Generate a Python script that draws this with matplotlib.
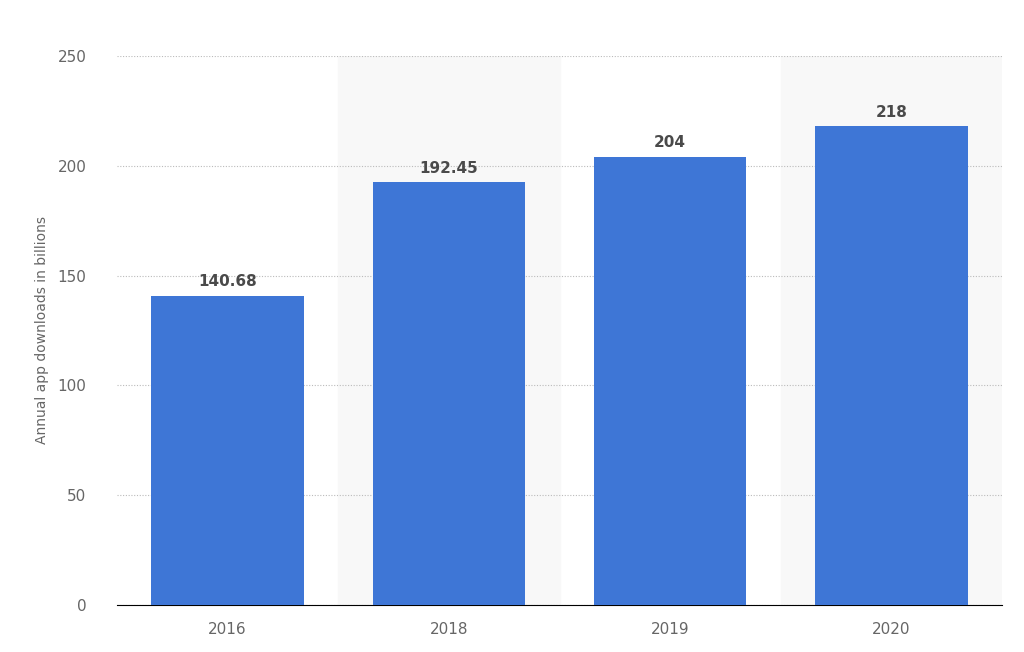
import numpy as np
import matplotlib.pyplot as plt

years = ['2016', '2018', '2019', '2020']
downloads = [140.68, 192.45, 204, 218]
labels = ['140.68', '192.45', '204', '218']

fig = plt.figure(figsize=(10.24, 6.52), dpi=100)
ax = fig.add_axes([117/1024, 47/652, 885/1024, 549/652])

x = np.arange(len(years))
for i in x:
    if i % 2 == 1:
        ax.axvspan(i - 0.5, i + 0.5, color='#f8f8f8', zorder=0)
ax.bar(x, downloads, width=0.69, color='#3e76d6', zorder=3)
for xi, v, lab in zip(x, downloads, labels):
    ax.text(xi, v + 3, lab, ha='center', va='bottom', fontsize=11,
            fontweight='bold', color='#4a4a4a', zorder=4)

ax.set_xlim(-0.5, 3.5)
ax.set_ylim(0, 250)
ax.set_yticks(range(0, 251, 50))
ax.set_xticks(x)
ax.set_xticklabels(years)
ax.grid(axis='y', linestyle=(0, (1, 1.5)), color='#bbbbbb', linewidth=0.8, zorder=1)
for s in ['top', 'right', 'left']:
    ax.spines[s].set_visible(False)
ax.spines['bottom'].set_color('#000000')
ax.tick_params(axis='both', length=0, labelsize=11, colors='#666666', pad=12)
ax.tick_params(axis='y', pad=22)
ax.set_ylabel('Annual app downloads in billions', fontsize=10, color='#666666', labelpad=6)

fig.savefig('out.png')
